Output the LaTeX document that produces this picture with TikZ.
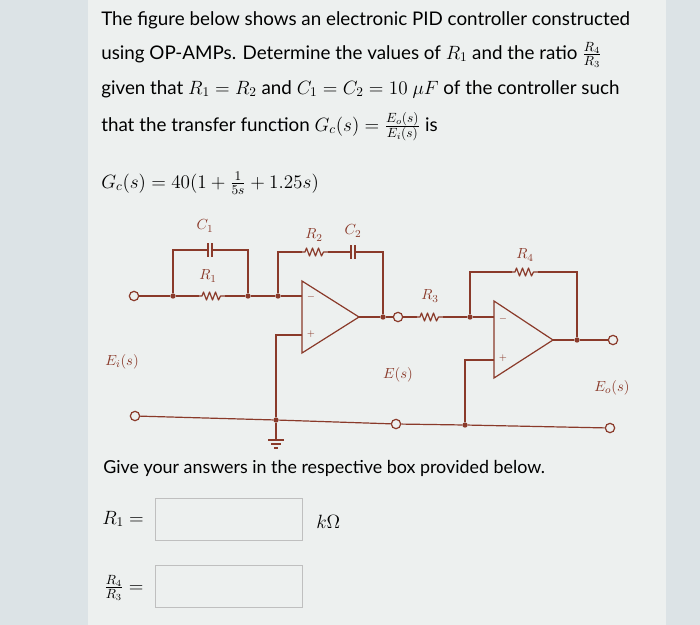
\documentclass[tikz,border=0pt]{standalone}
\usepackage{fontspec}
\setmainfont{Lato}
\usetikzlibrary{calc}
\definecolor{wire}{HTML}{8A3A2A}
\definecolor{bgc}{HTML}{DCE3E6}
\definecolor{card}{HTML}{EDF0EF}
\begin{document}
\begin{tikzpicture}[x=0.75pt,y=-0.75pt,
  w/.style={draw=wire,line width=0.9pt},
  dotn/.style={circle,fill=wire,inner sep=0pt,minimum size=4pt},
  term/.style={circle,draw=wire,fill=card,line width=0.9pt,inner sep=0pt,minimum size=7pt},
  lab/.style={text=wire,font=\fontsize{11}{13}\selectfont,inner sep=1pt},
  txt/.style={anchor=base west,inner sep=0pt,font=\fontsize{14.1}{16}\selectfont},
  box/.style={draw=black!25,line width=0.6pt}]
\useasboundingbox (0,0) rectangle (700,625);
\fill[bgc] (0,0) rectangle (700,625);
\fill[card] (88,0) rectangle (666,625);
% text
\node[txt] (t1) at (101,25) {The figure below shows an electronic PID controller constructed};
\node[txt] (t2) at (101,59) {using OP-AMPs. Determine the values of $R_1$ and the ratio $\frac{R_4}{R_3}$};
\node[txt] (t3) at (101,94) {given that $R_1=R_2$ and $C_1=C_2=10\ \mu F$ of the controller such};
\node[txt] (t4) at (101,131) {that the transfer function $G_c(s)=\frac{E_o(s)}{E_i(s)}$ is};
\node[txt] (t5) at (101,188) {$G_c(s)=40(1+\frac{1}{5s}+1.25s)$};
\node[txt,font=\fontsize{13.4}{16}\selectfont] (t6) at (103,473) {Give your answers in the respective box provided below.};
\node[txt] (t7) at (102,524) {$R_1=$};
\node[txt] (t8) at (316,528) {$k\Omega$};
\node[txt] (t9) at (104,592) {$\frac{R_4}{R_3}=$};
\draw[box] (155,498) rectangle (302,540);
\draw[box] (155,565) rectangle (302,607);
% opamps
\draw[w] (302,281) -- (359,317) -- (302,353) -- cycle;
\node[text=wire,font=\scriptsize] at (311,297) {$-$};
\node[text=wire,font=\scriptsize] at (311,334) {$+$};
\draw[w] (494,301) -- (553,340) -- (494,378) -- cycle;
\node[text=wire,font=\scriptsize] at (503,319) {$-$};
\node[text=wire,font=\scriptsize] at (503,358) {$+$};
% nodes
\node[term] (tin) at (134,296) {};
\node[dotn] (na) at (173,296) {};
\node[dotn] (nb) at (248,296) {};
\node[dotn] (nc) at (278,296) {};
\node[dotn] (nd) at (383,317) {};
\node[term] (tmid) at (398,317) {};
\node[dotn] (ne) at (470,317) {};
\node[dotn] (nf) at (577,340) {};
\node[term] (tout) at (613,340) {};
\node[term] (tbl) at (135,416) {};
\node[dotn] (ng) at (276,420) {};
\node[term] (tbm) at (396,424) {};
\node[dotn] (nh) at (465,425) {};
\node[term] (tbr) at (610,428) {};
% resistor pic
\tikzset{res/.pic={\draw[w,line join=round] (-13,0) -- (-10,0) -- (-8.5,-4) -- (-5.5,4) -- (-2.5,-4) -- (0.5,4) -- (3.5,-4) -- (6.5,4) -- (8.5,0) -- (13,0);},
 cap/.pic={\draw[w] (-12,0) -- (-2,0) (2,0) -- (12,0); \draw[w] (-2,-7) -- (-2,7) (2,-7) -- (2,7);}}
% input stage
\draw[w] (tin) -- (na) -- (199,296);
\pic at (212,296) {res};
\draw[w] (225,296) -- (nb) -- (nc) -- (302,296);
\draw[w] (na) |- (198,250); \pic at (210,250) {cap}; \draw[w] (222,250) -| (nb);
\draw[w] (nc) |- (302,252); \pic at (315,252) {res}; \draw[w] (328,252) -- (341,252);
\pic at (353,252) {cap}; \draw[w] (365,252) -| (nd);
\draw[w] (359,317) -- (nd) -- (tmid);
\draw[w] (302,335) -| (ng);
% second stage
\draw[w] (tmid) -- (417,317); \pic at (430,317) {res}; \draw[w] (443,317) -- (ne) -- (494,317);
\draw[w] (ne) |- (512,272); \pic at (525,272) {res}; \draw[w] (538,272) -| (nf);
\draw[w] (553,340) -- (nf) -- (tout);
\draw[w] (494,360) -| (nh);
% ground line
\draw[w] (tbl) -- (ng) -- (tbm) -- (nh) -- (tbr);
\draw[w] (ng) -- (276,440);
\draw[w] (268,440) -- (284,440) (271,444) -- (281,444) (274,448) -- (278,448);
% labels
\node[lab] (lc1) at (205,226) {$C_1$};
\node[lab] (lr1) at (208,276) {$R_1$};
\node[lab] (lr2) at (314,235) {$R_2$};
\node[lab] (lc2) at (353,231) {$C_2$};
\node[lab] (lr3) at (430,296) {$R_3$};
\node[lab] (lr4) at (525,255) {$R_4$};
\node[lab] (lei) at (122,362) {$E_i(s)$};
\node[lab] (les) at (398,375) {$E(s)$};
\node[lab] (leo) at (612,388) {$E_o(s)$};
\end{tikzpicture}
\end{document}
